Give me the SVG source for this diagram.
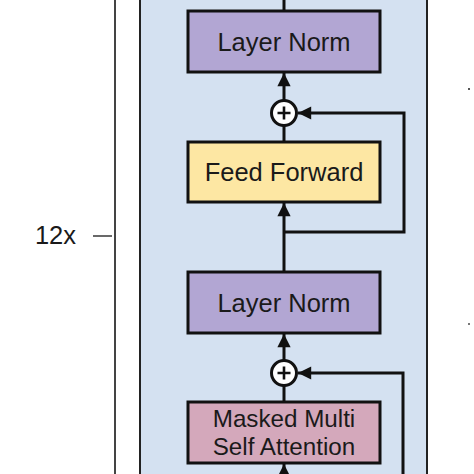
<svg xmlns="http://www.w3.org/2000/svg" width="474" height="474" viewBox="0 0 474 474">
  <defs>
    <style>
      .box { stroke: #111; stroke-width: 3; }
      .ln { fill: #b2a6d3; }
      .ff { fill: #fde7a3; }
      .att { fill: #d4a8bb; }
      .lbl { font-family: "Liberation Sans", Arial, sans-serif; font-size: 25.5px; fill: #1a1a1a; text-anchor: middle; }
      .sm { font-size: 24.2px; }
      .wire { stroke: #111; stroke-width: 3; fill: none; }
      .add { fill: #fff; stroke: #111; stroke-width: 3; }
    </style>
    <marker id="ah" viewBox="0 0 10 10" refX="10" refY="5" markerWidth="5.5" markerHeight="4.4" markerUnits="strokeWidth" orient="auto">
      <path d="M0,0 L10,5 L0,10 Z" fill="#111"/>
    </marker>
  </defs>
  <rect width="474" height="474" fill="#fff"/>

  <!-- repeat bracket -->
  <g id="repeat">
    <line x1="115" y1="0" x2="115" y2="474" stroke="#444" stroke-width="2"/>
    <line x1="93" y1="236" x2="112" y2="236" stroke="#444" stroke-width="1.6"/>
    <text class="lbl" x="55.5" y="244">12x</text>
  </g>

  <!-- block panel -->
  <g id="panel">
    <rect x="140" y="-10" width="287" height="500" fill="#d4e1f1" stroke="#222" stroke-width="2"/>
  </g>

  <!-- connectors -->
  <g id="connectors">
    <line class="wire" x1="284" y1="0" x2="284" y2="11"/>
    <line class="wire" x1="284" y1="100" x2="284" y2="73" marker-end="url(#ah)"/>
    <line class="wire" x1="284" y1="126" x2="284" y2="142"/>
    <polyline class="wire" points="284,232 404,232 404,113 298,113" marker-end="url(#ah)"/>
    <line class="wire" x1="284" y1="272" x2="284" y2="203" marker-end="url(#ah)"/>
    <line class="wire" x1="284" y1="360" x2="284" y2="334" marker-end="url(#ah)"/>
    <line class="wire" x1="284" y1="386" x2="284" y2="402"/>
    <polyline class="wire" points="403,480 403,373 298,373" marker-end="url(#ah)"/>
    <line class="wire" x1="284" y1="480" x2="284" y2="464" marker-end="url(#ah)"/>
  </g>

  <g id="layernorm1">
    <rect class="box ln" x="188" y="11" width="192" height="61"/>
    <text class="lbl" x="284" y="51">Layer Norm</text>
  </g>

  <g id="add1">
    <circle class="add" cx="284" cy="113" r="12.5"/>
    <path d="M277.5,113 H290.5 M284,106.5 V119.5" stroke="#111" stroke-width="2.6"/>
  </g>

  <g id="feedforward">
    <rect class="box ff" x="188" y="142" width="192" height="60"/>
    <text class="lbl" x="284" y="181">Feed Forward</text>
  </g>

  <g id="layernorm2">
    <rect class="box ln" x="188" y="272" width="192" height="61"/>
    <text class="lbl" x="284" y="311.5">Layer Norm</text>
  </g>

  <g id="add2">
    <circle class="add" cx="284" cy="373" r="12.5"/>
    <path d="M277.5,373 H290.5 M284,366.5 V379.5" stroke="#111" stroke-width="2.6"/>
  </g>

  <g id="maskedattention">
    <rect class="box att" x="188" y="402" width="192" height="61"/>
    <text class="lbl sm" x="284" y="427">Masked Multi</text>
    <text class="lbl sm" x="284" y="455">Self Attention</text>
  </g>

  <g id="specks">
    <rect x="468" y="88" width="2" height="2" fill="#555"/>
    <rect x="468" y="323" width="2" height="2" fill="#777"/>
  </g>
</svg>
